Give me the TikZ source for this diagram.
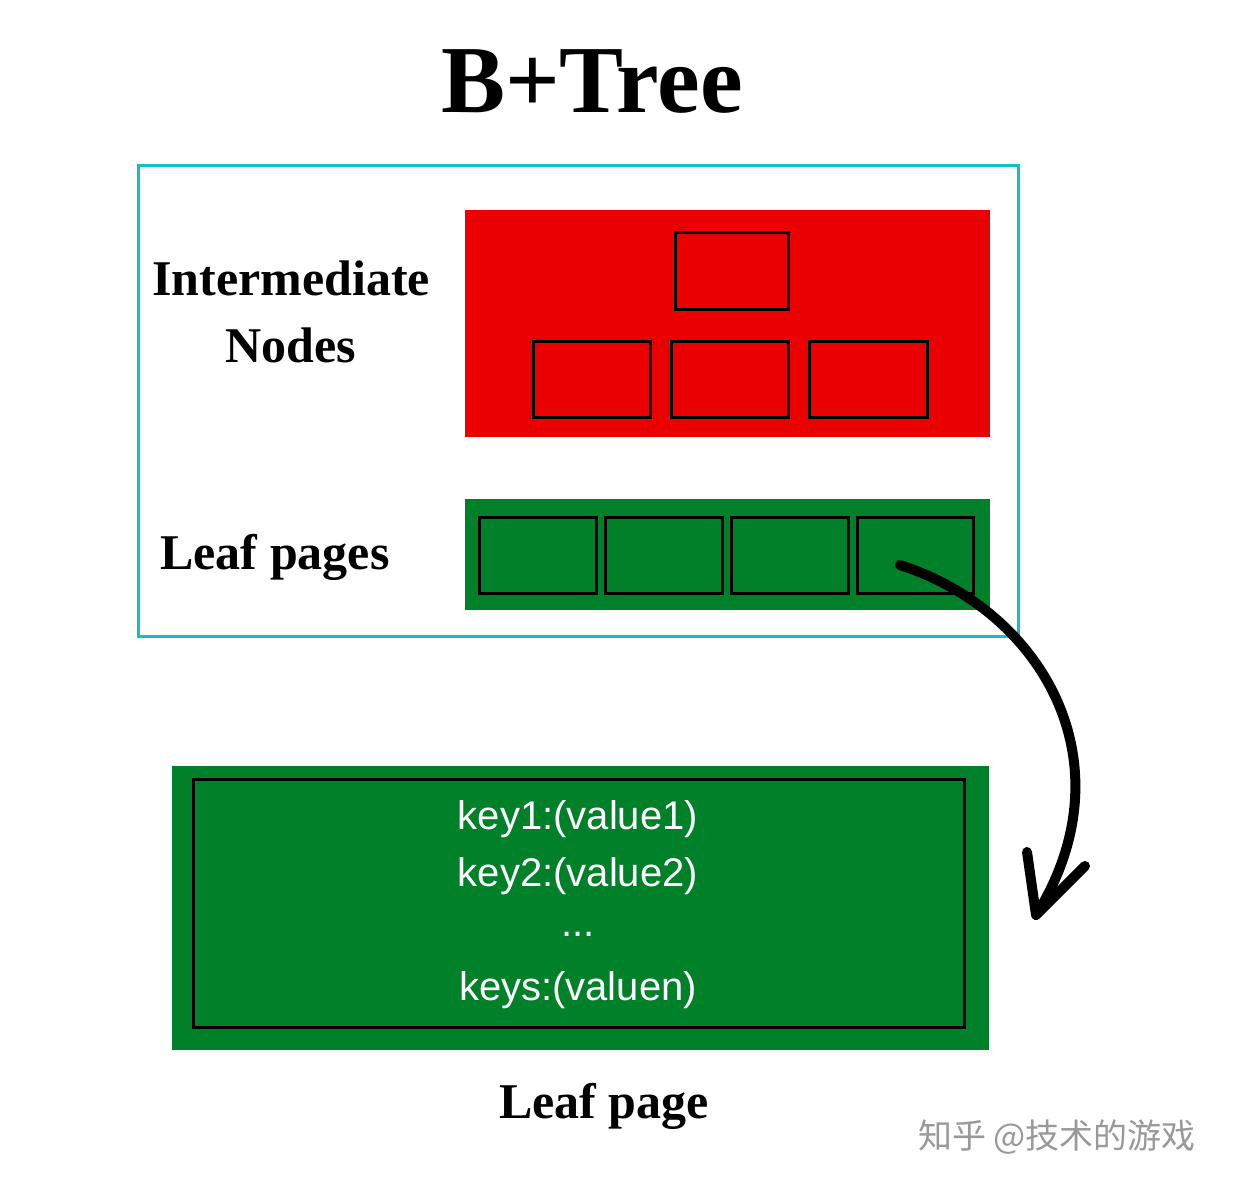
\documentclass[tikz,border=0pt]{standalone}
\usepackage{fontspec}
\setmainfont{Liberation Serif}
\setsansfont{Liberation Sans}
\newfontfamily\cjk{Noto Sans CJK SC}
\definecolor{cyanb}{RGB}{20,190,200}
\definecolor{redb}{RGB}{235,0,0}
\definecolor{greenb}{RGB}{0,128,40}
\begin{document}
\begin{tikzpicture}[x=0.5pt,y=-0.5pt,
  cell/.style={draw=black,line width=1.5pt},
  lbl/.style={font=\bfseries\fontsize{25}{28}\selectfont,anchor=center},
  val/.style={text=white,font=\sffamily\fontsize{20}{22}\selectfont}]
\useasboundingbox (0,0) rectangle (1240,1188);
\node[font=\bfseries\fontsize{48}{50}\selectfont] (title) at (592,82) {B+Tree};
\draw[cyanb,line width=1.5pt] (138,165) rectangle (1018,636);
\fill[redb] (465,210) rectangle (990,437);
\draw[cell] (675,232) rectangle (788,309);
\draw[cell] (533,341) rectangle (650,417);
\draw[cell] (671,341) rectangle (788,417);
\draw[cell] (809,341) rectangle (927,417);
\node[lbl] (inter) at (291,278) {Intermediate};
\node[lbl] (nodes) at (291,345) {Nodes};
\fill[greenb] (465,499) rectangle (990,610);
\foreach \a/\b in {479/596,605/722,731/848,857/973}
  \draw[cell] (\a,517) rectangle (\b,593);
\node[lbl] (leafs) at (275,557) {Leaf pages};
\fill[greenb] (172,766) rectangle (989,1050);
\draw[cell] (193,779) rectangle (964,1027);
\node[val] (k1) at (578,819) {key1:(value1)};
\node[val] (k2) at (578,876) {key2:(value2)};
\node[val] (k3) at (578,934) {...};
\node[val] (k4) at (578,990) {keys:(valuen)};
\node[lbl] (leaf) at (604,1106) {Leaf page};
\node[text=gray!80,font=\cjk\fontsize{17}{19}\selectfont] (wm) at (1057,1137) {知乎 @技术的游戏};
\draw[line width=5pt,line cap=round,line join=round] (900,565) .. controls (1040,610) and (1130,760) .. (1038,912);
\draw[line width=5pt,line cap=round,line join=round] (1027,852) -- (1036,915) -- (1085,866);
\end{tikzpicture}
\end{document}
